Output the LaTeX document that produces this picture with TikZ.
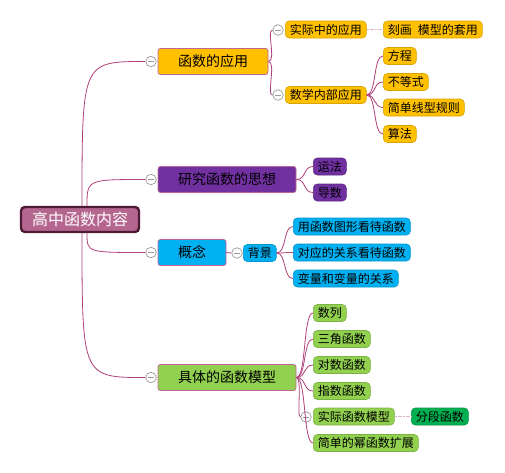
\documentclass[tikz,border=0pt]{standalone}
\usepackage{fontspec}
\setmainfont{Noto Sans CJK SC}
\begin{document}
\begin{tikzpicture}[x=1pt,y=-1pt,
  conn/.style={draw=linec,line width=0.8pt},
  dotconn/.style={draw=linec!40,line width=1.8pt,dash pattern=on 1.2pt off 0.4pt},
  coll/.style={circle,draw=gray!80,fill=white,line width=0.7pt,minimum size=10.5pt,inner sep=0pt,
    path picture={\draw[gray!80,line width=0.8pt] ([xshift=-3.2pt]path picture bounding box.center) -- ([xshift=3.2pt]path picture bounding box.center);}},
  rootbox/.style={rounded corners=4pt,draw=rootb,line width=2.4pt,fill=rootf,text=white,font=\fontsize{16}{18}\selectfont,minimum width=118pt,minimum height=25pt,inner sep=0pt},
  lvone/.style={rounded corners=2.5pt,draw=linec!80,line width=0.8pt,fill=#1,font=\fontsize{14}{16}\selectfont,minimum height=26pt,inner xsep=20pt,inner ysep=0pt},
  lvtwo/.style={rounded corners=4pt,draw=#1!85!black,line width=0.6pt,fill=#1,font=\fontsize{12}{14}\selectfont,minimum height=17pt,inner xsep=4.5pt,inner ysep=0pt},
]
\definecolor{linec}{HTML}{B0407A}
\definecolor{rootf}{HTML}{B5668F}
\definecolor{rootb}{HTML}{4F1A35}
\definecolor{cy}{HTML}{FFC000}
\definecolor{cp}{HTML}{7030A0}
\definecolor{cb}{HTML}{00B0F0}
\definecolor{cg}{HTML}{92D050}
\definecolor{cdg}{HTML}{00B050}
\useasboundingbox[fill=white] (0,0) rectangle (505,472);

% root
\node[rootbox] (root) at (80,219.5) {高中函数内容};

% level one
\node[lvone=cy] (a) at (213,61.5) {函数的应用};
\node[lvone=cp] (b) at (227,179.5) {研究函数的思想};
\node[lvone=cb] (c) at (192,252.5) {概念};
\node[lvone=cg] (d) at (227,377.5) {具体的函数模型};
\node[coll] (ca) at (151,61.5) {};
\node[coll] (cb1) at (151,179.5) {};
\node[coll] (cc) at (151,252.5) {};
\node[coll] (cd) at (151,377.5) {};

% group a
\node[lvtwo=cy,anchor=west] (a1) at (285,29.5) {实际中的应用};
\node[lvtwo=cy,anchor=west] (a2) at (285,95) {数学内部应用};
\node[coll] (ca1) at (278,30) {};
\node[coll] (ca2) at (278,95) {};
\node[lvtwo=cy,anchor=west] (a11) at (383,29.5) {刻画\hspace{0.5em}模型的套用};
\node[lvtwo=cy,anchor=west] (a21) at (383,56) {方程};
\node[lvtwo=cy,anchor=west] (a22) at (383,82) {不等式};
\node[lvtwo=cy,anchor=west] (a23) at (383,107.5) {简单线型规则};
\node[lvtwo=cy,anchor=west] (a24) at (383,134) {算法};

% group b
\node[lvtwo=cp,anchor=west] (b1) at (313,166.5) {运法};
\node[lvtwo=cp,anchor=west] (b2) at (313,192.5) {导数};

% group c
\node[lvtwo=cb,anchor=west] (c1) at (243,253) {背景};
\node[coll] (cc1) at (237,253) {};
\node[lvtwo=cb,anchor=west] (c11) at (293,226.5) {用函数图形看待函数};
\node[lvtwo=cb,anchor=west] (c12) at (293,252.5) {对应的关系看待函数};
\node[lvtwo=cb,anchor=west] (c13) at (293,278.5) {变量和变量的关系};

% group d
\node[lvtwo=cg,anchor=west] (d1) at (313,313) {数列};
\node[lvtwo=cg,anchor=west] (d2) at (313,339) {三角函数};
\node[lvtwo=cg,anchor=west] (d3) at (313,365) {对数函数};
\node[lvtwo=cg,anchor=west] (d4) at (313,391) {指数函数};
\node[lvtwo=cg,anchor=west] (d5) at (313,416.5) {实际函数模型};
\node[coll] (cd5) at (306,417) {};
\node[lvtwo=cdg,anchor=west] (d51) at (411,416.5) {分段函数};
\node[lvtwo=cg,anchor=west] (d6) at (313,443) {简单的幂函数扩展};

% root connectors
\draw[conn] ([xshift=2pt]root.north) .. controls ([xshift=2pt]root.north |- ca.west) .. (ca.west);
\draw[conn] ([xshift=7pt]root.north) .. controls ([xshift=7pt]root.north |- cb1.west) .. (cb1.west);
\draw[conn] ([xshift=7pt]root.south) .. controls ([xshift=7pt]root.south |- cc.west) .. (cc.west);
\draw[conn] ([xshift=2pt]root.south) .. controls ([xshift=2pt]root.south |- cd.west) .. (cd.west);

% a connectors
\foreach \t in {ca1,ca2}
  \draw[conn] (a.east) .. controls ([xshift=8pt]a.east) and ([xshift=-6pt]\t.west) .. (\t.west);
\draw[dotconn] (a1.east) -- (a11.west);
\foreach \t in {a21,a22,a23,a24}
  \draw[conn] (a2.east) .. controls ([xshift=10pt]a2.east) and ([xshift=-10pt]\t.west) .. (\t.west);

% b connectors
\foreach \t in {b1,b2}
  \draw[conn] (b.east) .. controls ([xshift=10pt]b.east) and ([xshift=-10pt]\t.west) .. (\t.west);

% c connectors
\draw[conn] (c.east) -- (cc1.west);
\foreach \t in {c11,c12,c13}
  \draw[conn] (c1.east) .. controls ([xshift=10pt]c1.east) and ([xshift=-10pt]\t.west) .. (\t.west);

% d connectors
\foreach \t in {d1,d2,d3,d4,d6}
  \draw[conn] (d.east) .. controls ([xshift=10pt]d.east) and ([xshift=-10pt]\t.west) .. (\t.west);
\draw[conn] (d.east) .. controls ([xshift=6pt]d.east) and ([xshift=-4pt]cd5.west) .. (cd5.west);
\draw[dotconn] (d5.east) -- (d51.west);
\end{tikzpicture}
\end{document}
